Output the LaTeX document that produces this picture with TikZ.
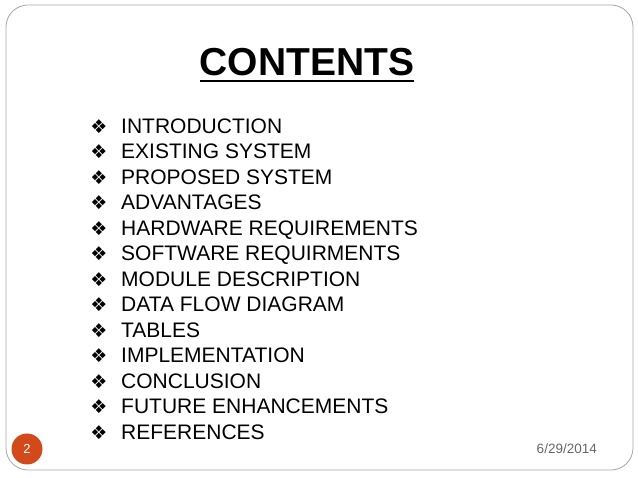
\documentclass[tikz,border=0pt]{standalone}
\usepackage{fontspec}
\setmainfont{Liberation Sans}
\newfontfamily\dejavu{DejaVu Sans}
\definecolor{slideorange}{HTML}{D24A1C}
\begin{document}
\begin{tikzpicture}[x=1pt,y=-1pt,
  item/.style={anchor=base west,font=\fontsize{21}{22}\selectfont,inner sep=0pt},
  bul/.style={anchor=base,font=\dejavu\fontsize{19}{20}\selectfont,inner sep=0pt}]
\useasboundingbox (0,0) rectangle (638,478);
\draw[gray!70,line width=0.8pt,rounded corners=22pt] (6,5) rectangle (633,470);
\node[font=\bfseries\fontsize{39}{40}\selectfont,inner sep=0pt] (title) at (307,62) {CONTENTS};
\draw[line width=2pt] (200,81) -- (414,81);
\foreach \t [count=\i] in {INTRODUCTION,EXISTING SYSTEM,PROPOSED SYSTEM,ADVANTAGES,HARDWARE REQUIREMENTS,SOFTWARE REQUIRMENTS,MODULE DESCRIPTION,DATA FLOW DIAGRAM,TABLES,IMPLEMENTATION,CONCLUSION,FUTURE ENHANCEMENTS,REFERENCES}{
  \node[bul] (b\i) at (99,{133.5+25.5*(\i-1)}) {❖};
  \node[item] (t\i) at (121,{133.5+25.5*(\i-1)}) {\t};
}
\node[circle,fill=slideorange,minimum size=31pt,inner sep=0pt,text=white,font=\fontsize{13}{14}\selectfont] (num) at (27,449) {2};
\node[anchor=east,text=gray!80!black,font=\fontsize{13.5}{14}\selectfont,inner sep=0pt] (date) at (597,449) {6/29/2014};
\end{tikzpicture}
\end{document}
